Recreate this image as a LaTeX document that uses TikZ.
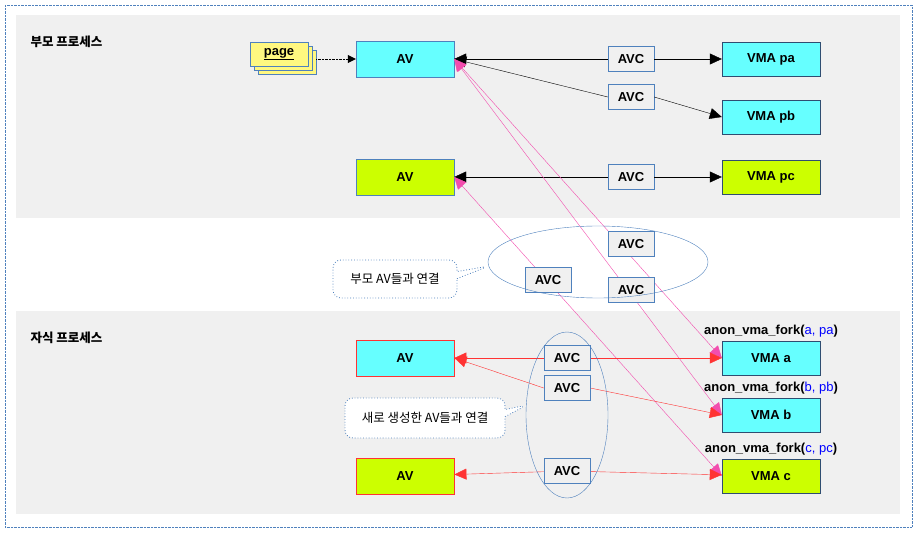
\documentclass[tikz,border=0pt]{standalone}
\usepackage{fontspec}
\setmainfont{Liberation Sans}
\newfontfamily\kor{Noto Sans CJK KR}
\usetikzlibrary{arrows.meta,positioning,shapes.geometric,shapes.callouts}
\definecolor{avcyan}{HTML}{66FFFF}
\definecolor{avgreen}{HTML}{CCFF00}
\definecolor{bordblue}{HTML}{4F81BD}
\definecolor{panel}{HTML}{F0F0F0}
\begin{document}
\begin{tikzpicture}[x=1pt, y=-1pt,
    av/.style={draw=bordblue, minimum width=98pt, minimum height=36pt, font=\bfseries\fontsize{13}{15}\selectfont},
    avc/.style={draw=bordblue, fill=panel, minimum width=46pt, minimum height=25pt, inner sep=1pt, font=\bfseries\fontsize{13}{15}\selectfont},
    vma/.style={draw=bordblue!60!black, minimum width=98pt, minimum height=34pt, font=\bfseries\fontsize{13}{15}\selectfont},
    fork/.style={font=\bfseries\fontsize{13}{15}\selectfont},
    note/.style={rectangle callout, rounded corners=8pt, draw=bordblue, dotted, thick, fill=white, font=\kor\fontsize{12.5}{15}\selectfont},
    link/.style={-{Triangle[length=12pt,width=11pt]}},
    rlink/.style={red!80, -{Triangle[length=12pt,width=11pt]}},
    mlink/.style={magenta!70, {Triangle[length=12pt,width=11pt]}-{Triangle[length=12pt,width=11pt]}}
]
    \useasboundingbox (0,0) rectangle (918,534);
    % Frame and panels
    \draw[bordblue, densely dotted] (5,5) rectangle (912,527);
    \fill[panel] (16,15) rectangle (900,218);
    \fill[panel] (16,311) rectangle (900,514);
    \node[font=\kor\bfseries\fontsize{12.5}{15}\selectfont, anchor=west] (ptitle) at (27,42) {부모 프로세스};
    \node[font=\kor\bfseries\fontsize{12.5}{15}\selectfont, anchor=west] (ctitle) at (27,338) {자식 프로세스};

    % Parent process
    \foreach \d in {8,4} \draw[bordblue, fill=yellow!50] (250+\d,42+\d) rectangle (308+\d,66+\d);
    \node[draw=bordblue, fill=yellow!50, minimum width=58pt, minimum height=24pt, font=\bfseries\fontsize{13}{15}\selectfont] (page) at (279,54) {\underline{page}};
    \node[av, fill=avcyan] (pav) at (405,59) {AV};
    \node[av, fill=avgreen] (pavc) at (405,177) {AV};
    \node[avc] (c1) at (631,59) {AVC};
    \node[avc] (c2) at (631,97) {AVC};
    \node[avc] (c3) at (631,177) {AVC};
    \node[vma, fill=avcyan] (vpa) at (771,59) {VMA pa};
    \node[vma, fill=avcyan] (vpb) at (771,117) {VMA pb};
    \node[vma, fill=avgreen] (vpc) at (771,177) {VMA pc};
    \draw[densely dotted, -{Triangle[length=8pt,width=8pt]}] (page.east |- pav) ++(8,0) -- (pav);
    \draw[link] (c1) -- (pav);
    \draw[link] (c1) -- (vpa);
    \draw[link] (c2.west) -- (pav.east);
    \draw[link] (c2.east) -- (vpb.west);
    \draw[link] (c3) -- (pavc);
    \draw[link] (c3) -- (vpc);

    % Child process
    \node[av, fill=avcyan, draw=red!80, thick] (cav) at (405,358) {AV};
    \node[av, fill=avgreen, draw=red!80, thick] (cavc) at (405,476) {AV};
    \node[vma, fill=avcyan] (va) at (771,358) {VMA a};
    \node[vma, fill=avcyan] (vb) at (771,415) {VMA b};
    \node[vma, fill=avgreen] (vc) at (771,476) {VMA c};
    \node[fork, above=0pt of va] {anon\_vma\_fork(\textcolor{blue}{\mdseries a, pa})};
    \node[fork, above=0pt of vb] {anon\_vma\_fork(\textcolor{blue}{\mdseries b, pb})};
    \node[fork, above=0pt of vc] {anon\_vma\_fork(\textcolor{blue}{\mdseries c, pc})};

    % Links to parent AVs
    \draw[mlink] (pav.east) -- (va.west);
    \draw[mlink] (pav.east) -- (vb.west);
    \draw[mlink] (pavc.east) -- (vc.west);
    \node[avc] (m1) at (631,244) {AVC};
    \node[avc] (m2) at (548,280) {AVC};
    \node[avc] (m3) at (631,290) {AVC};
    \node[draw=bordblue, ellipse, minimum width=220pt, minimum height=72pt] (e1) at (598,262) {};
    \node[note, minimum width=124pt, minimum height=38pt, callout absolute pointer={(489,266)}] (n1) at (395,279) {부모 AV들과 연결};

    % Links to new AVs
    \node[avc] (k1) at (567,358) {AVC};
    \node[avc] (k2) at (567,388) {AVC};
    \node[avc] (k3) at (567,471) {AVC};
    \draw[rlink] (k1) -- (cav);
    \draw[rlink] (k1) -- (va);
    \draw[rlink] (k2.west) -- (cav.east);
    \draw[rlink] (k2.east) -- (vb.west);
    \draw[rlink] (k3) -- (cavc);
    \draw[rlink] (k3) -- (vc);
    \node[avc] at (k1) {AVC};
    \node[avc] at (k2) {AVC};
    \node[avc] at (k3) {AVC};
    \node[draw=bordblue, ellipse, minimum width=82pt, minimum height=166pt] (e2) at (567,415) {};
    \node[note, minimum width=160pt, minimum height=40pt, callout absolute pointer={(527,405)}] (n2) at (425,418) {새로 생성한 AV들과 연결};
\end{tikzpicture}
\end{document}
